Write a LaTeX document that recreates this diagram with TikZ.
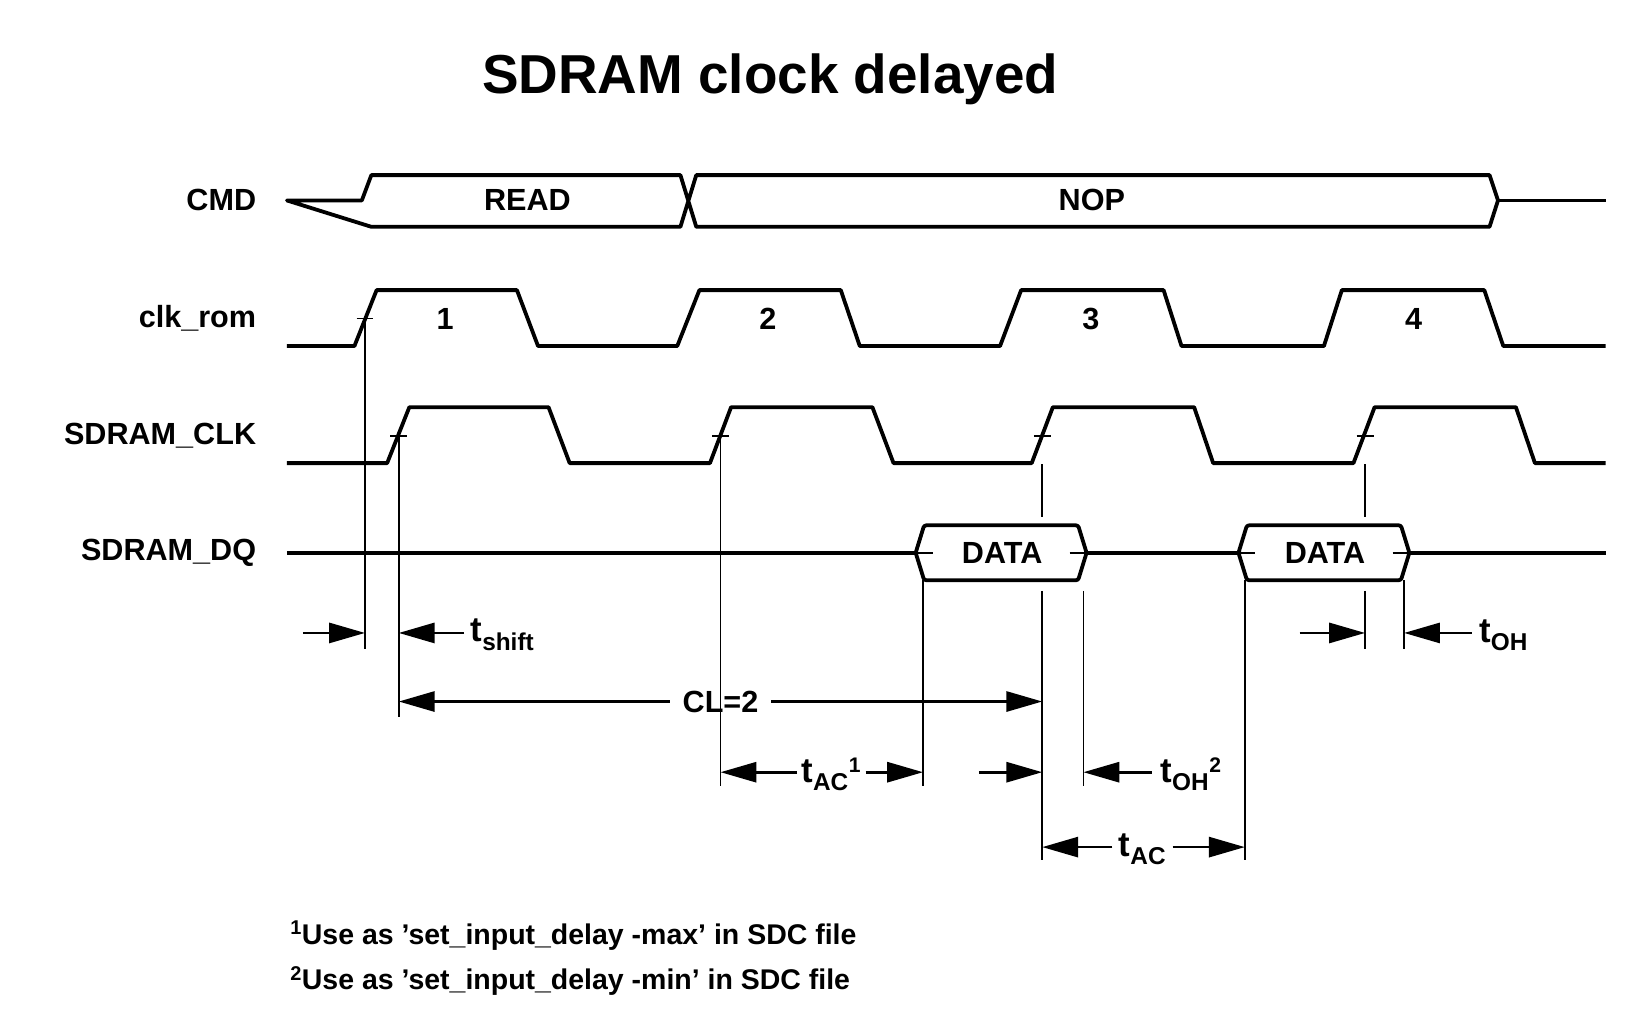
\documentclass[tikz,border=0pt]{standalone}
\usepackage{fontspec}
\setmainfont{Liberation Sans}
\usetikzlibrary{arrows.meta}
\begin{document}
\begin{tikzpicture}[x=1pt,y=-1pt,
  sig/.style={line width=3.6pt,line join=round},
  guide/.style={line width=1.6pt},
  dim/.style={line width=2.6pt,-{Triangle[length=34pt,width=19pt]}},
  lab/.style={font=\fontsize{29}{32}\selectfont\bfseries,inner sep=0pt},
  tlab/.style={font=\fontsize{33}{36}\selectfont\bfseries,inner sep=0pt,anchor=west},
  ftn/.style={font=\fontsize{27}{30}\selectfont\bfseries,inner sep=0pt,anchor=west}]
\useasboundingbox (0,0) rectangle (1566,976);
\node[font=\fontsize{52}{56}\selectfont\bfseries] (title) at (730,75) {SDRAM clock delayed};
% signal names
\node[lab,anchor=east] (lcmd) at (243,190) {CMD};
\node[lab,anchor=east] (lrom) at (243,302) {clk\_rom};
\node[lab,anchor=east] (lclk) at (243,413) {SDRAM\_CLK};
\node[lab,anchor=east] (ldq) at (243,524) {SDRAM\_DQ};
% CMD
\draw[sig] (272,190)--(343,190)--(352,166)--(645,166)--(660,215)--(1412,215)--(1420,190)--(1412,166)--(660,166)--(645,215)--(352,215)--cycle;
\draw[sig] (1420,190)--(1522,190);
\node[lab] (read) at (500,190) {READ};
\node[lab] (nop) at (1035,190) {NOP};
% clk_rom
\draw[sig] (272,328)--(336,328)--(357,275)--(490,275)--(510,328)--(642,328)--(663,275)--(797,275)--(815,328)--(948,328)--(968,275)--(1103,275)--(1120,328)--(1255,328)--(1272,275)--(1407,275)--(1425,328)--(1522,328);
\foreach \n/\x in {1/422,2/728,3/1034,4/1340} \node[lab] (c\n) at (\x,302) {\n};
% SDRAM_CLK
\draw[sig] (272,439)--(367,439)--(388,386)--(520,386)--(540,439)--(673,439)--(693,386)--(827,386)--(847,439)--(978,439)--(998,386)--(1132,386)--(1150,439)--(1283,439)--(1303,386)--(1437,386)--(1455,439)--(1522,439);
% edge ticks
\foreach \x/\y in {346/302,378/413,683/413,988/413,1294/413}
  \draw[guide] (\x-8,\y)--(\x+8,\y);
% SDRAM_DQ
\draw[sig] (272,524)--(868,524);
\draw[sig] (1030,524)--(1174,524);
\draw[sig] (1336,524)--(1522,524);
\draw[sig,rounded corners=2pt] (868,524)--(876,498)--(1022,498)--(1030,524)--(1022,550)--(876,550)--cycle;
\draw[sig,rounded corners=2pt] (1174,524)--(1182,498)--(1328,498)--(1336,524)--(1328,550)--(1182,550)--cycle;
\draw[guide] (868,524)--(884,524) (1014,524)--(1030,524) (1174,524)--(1190,524) (1320,524)--(1336,524);
\node[lab] (d1) at (950,524) {DATA};
\node[lab] (d2) at (1256,524) {DATA};
% guide lines
\coordinate (g1) at (346,615); \coordinate (g2) at (378,680);
\coordinate (g3) at (683,745); \coordinate (g4) at (875,745);
\coordinate (g5) at (988,815); \coordinate (g6) at (1027,745);
\coordinate (g7) at (1180,815); \coordinate (g8) at (1294,615);
\coordinate (g9) at (1331,615);
\draw[guide] (346,302)--(g1);
\draw[guide] (378,413)--(g2);
\draw[guide] (683,413)--(g3);
\draw[guide] (875,550)--(g4);
\draw[guide] (988,440)--(988,490) (988,560)--(g5);
\draw[guide] (1027,560)--(g6);
\draw[guide] (1180,550)--(g7);
\draw[guide] (1294,440)--(1294,490) (1294,560)--(g8);
\draw[guide] (1331,550)--(g9);
% tshift
\coordinate (a1) at (287,600); \coordinate (a2) at (440,600);
\draw[dim] (a1)--(346,600);
\draw[dim] (a2)--(378,600);
\node[tlab] (tsh) at (446,602) {t\textsubscript{shift}};
% tOH right
\coordinate (a3) at (1232,600); \coordinate (a4) at (1395,600);
\draw[dim] (a3)--(1294,600);
\draw[dim] (a4)--(1331,600);
\node[tlab] (toh1) at (1402,602) {t\textsubscript{OH}};
% CL=2
\node[lab] (cl) at (683,665) {CL=2};
\draw[dim] (cl.west)++(-12,0)--(378,665);
\draw[dim] (cl.east)++(12,0)--(988,665);
% tAC1
\node[tlab,anchor=center] (tac1) at (788,734) {t\textsubscript{AC}\textsuperscript{\fontsize{20}{20}\selectfont 1}};
\draw[dim] (tac1.west)++(-4,-2)--(683,732);
\draw[dim] (tac1.east)++(4,-2)--(875,732);
% tOH2
\coordinate (a5) at (928,732);
\draw[dim] (a5)--(988,732);
\node[tlab] (toh2) at (1100,734) {t\textsubscript{OH}\textsuperscript{\fontsize{20}{20}\selectfont 2}};
\draw[dim] (toh2.west)++(-8,-2)--(1027,732);
% tAC
\node[tlab,anchor=center] (tac) at (1083,805) {t\textsubscript{AC}};
\draw[dim] (tac.west)++(-6,-2)--(988,803);
\draw[dim] (tac.east)++(6,-2)--(1180,803);
% footnotes
\node[ftn] (f1) at (275,887) {\textsuperscript{1}Use as 'set\_input\_delay -max' in SDC file};
\node[ftn] (f2) at (275,930) {\textsuperscript{2}Use as 'set\_input\_delay -min' in SDC file};
\end{tikzpicture}
\end{document}
